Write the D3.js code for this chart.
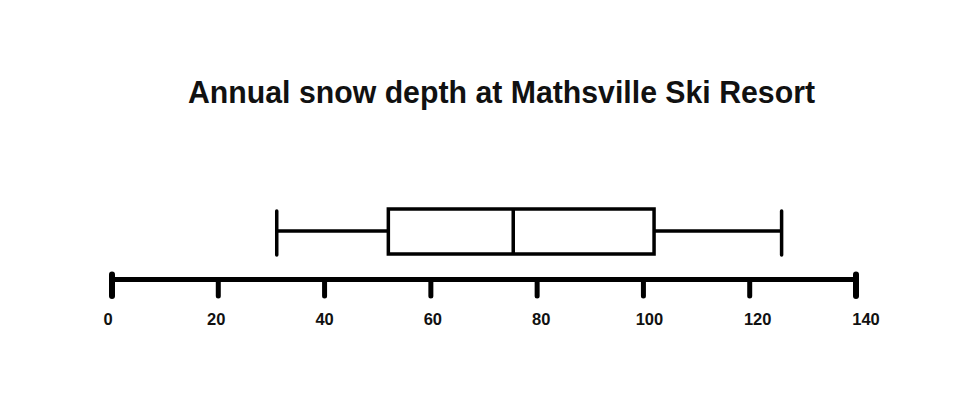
<!DOCTYPE html>
<html>
<head>
<meta charset="utf-8">
<script src="https://d3js.org/d3.v7.min.js"></script>
<style>
  html, body { margin: 0; padding: 0; background: #fff; }
  #chart { width: 958px; height: 406px; }
</style>
</head>
<body>
<div id="chart"></div>
<script>
// chart data
const titleText = 'Annual snow depth at Mathsville Ski Resort'
const statNames = ['min', 'q1', 'median', 'q3', 'max']
const statValues = [31, 52, 75.5, 102, 126]
const tickValues = [0, 20, 40, 60, 80, 100, 120, 140]
const domain = [0, 140]

const width = 958
const height = 406

const svg = d3.select('#chart')
  .append('svg')
  .attr('width', width)
  .attr('height', height)

svg.append('rect')
  .attr('width', width)
  .attr('height', height)
  .attr('fill', '#fff')

// x scale for marks, labels sit a little wider than the ticks
const x = d3.scaleLinear().domain(domain).range([112, 856])
const xLabel = d3.scaleLinear().domain(domain).range([108, 866])

const stat = {}
statNames.forEach((n, i) => { stat[n] = statValues[i] })

// title
svg.append('text')
  .attr('x', 188)
  .attr('y', 103)
  .attr('textLength', 627)
  .attr('lengthAdjust', 'spacingAndGlyphs')
  .attr('font-family', 'Liberation Sans, Arial, sans-serif')
  .attr('font-weight', 'bold')
  .attr('font-size', 32)
  .attr('fill', '#111')
  .text(titleText)

// axis
const axisY = 279.5
const axisG = svg.append('g')

axisG.append('line')
  .attr('x1', x(domain[0]))
  .attr('x2', x(domain[1]))
  .attr('y1', axisY)
  .attr('y2', axisY)
  .attr('stroke', '#000')
  .attr('stroke-width', 5)

axisG.selectAll('.tick')
  .data(tickValues)
  .enter()
  .append('line')
  .attr('class', 'tick')
  .attr('x1', d => x(d))
  .attr('x2', d => x(d))
  .attr('y1', (d, i) => (i === 0 || i === tickValues.length - 1) ? axisY - 5 : axisY)
  .attr('y2', 296)
  .attr('stroke', '#000')
  .attr('stroke-width', (d, i) => (i === 0 || i === tickValues.length - 1) ? 6 : 5)
  .attr('stroke-linecap', 'round')

axisG.selectAll('.tick-label')
  .data(tickValues)
  .enter()
  .append('text')
  .attr('class', 'tick-label')
  .attr('x', d => xLabel(d))
  .attr('y', 325)
  .attr('text-anchor', 'middle')
  .attr('font-family', 'Liberation Sans, Arial, sans-serif')
  .attr('font-weight', 'bold')
  .attr('font-size', 16.5)
  .attr('fill', '#111')
  .text(d => d)

// box plot
const boxTop = 209
const boxBottom = 254
const midY = 231
const capTop = 211
const capBottom = 255
const boxG = svg.append('g')
  .attr('stroke', '#000')
  .attr('stroke-width', 3.5)
  .attr('fill', 'none')

// whiskers
boxG.append('line')
  .attr('x1', x(stat.min)).attr('x2', x(stat.q1))
  .attr('y1', midY).attr('y2', midY)
boxG.append('line')
  .attr('x1', x(stat.q3)).attr('x2', x(stat.max))
  .attr('y1', midY).attr('y2', midY)

// whisker caps
boxG.selectAll('.cap')
  .data([stat.min, stat.max])
  .enter()
  .append('line')
  .attr('class', 'cap')
  .attr('x1', d => x(d)).attr('x2', d => x(d))
  .attr('y1', capTop).attr('y2', capBottom)
  .attr('stroke-linecap', 'round')

// box
boxG.append('rect')
  .attr('x', x(stat.q1))
  .attr('y', boxTop)
  .attr('width', x(stat.q3) - x(stat.q1))
  .attr('height', boxBottom - boxTop)
  .attr('fill', '#fff')

// median
boxG.append('line')
  .attr('x1', x(stat.median)).attr('x2', x(stat.median))
  .attr('y1', boxTop).attr('y2', boxBottom)
</script>
</body>
</html>
